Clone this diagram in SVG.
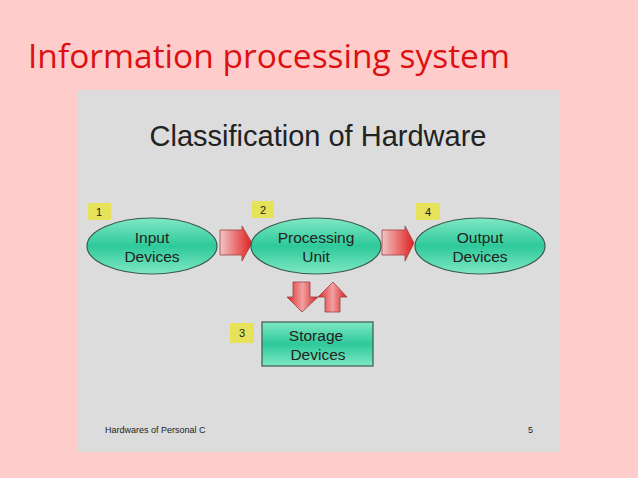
<svg xmlns="http://www.w3.org/2000/svg" width="638" height="478" viewBox="0 0 638 478">
<defs>
<linearGradient id="g" x1="0" y1="0" x2="0" y2="1"><stop offset="0" stop-color="#7fe8c4"/><stop offset="0.5" stop-color="#2ec99a"/><stop offset="1" stop-color="#7fe8c4"/></linearGradient>
<linearGradient id="r" x1="0" y1="0" x2="1" y2="0"><stop offset="0" stop-color="#f2c4c4"/><stop offset="1" stop-color="#e02020"/></linearGradient>
<linearGradient id="rv" x1="0" y1="0" x2="1" y2="0"><stop offset="0" stop-color="#e02a2a"/><stop offset="0.5" stop-color="#f0a0a0"/><stop offset="1" stop-color="#d82020"/></linearGradient>
</defs>
<style>
.n{fill:url(#g);stroke:#3a5a4a;stroke-width:1.2}
.t{font-family:"Liberation Sans",Arial,sans-serif;font-size:15.5px;fill:#222;text-anchor:middle}
.b{fill:#e6e35a}
.bt{font-family:"Liberation Sans",Arial,sans-serif;font-size:11px;fill:#222;text-anchor:middle}
.a{stroke:#a04040;stroke-width:0.8}
</style>
<rect width="638" height="478" fill="#ffcccc"/>
<text x="28" y="68" font-family="Open Sans, sans-serif" font-size="33.5" fill="#dd1111">Information processing system</text>
<rect x="78" y="90" width="482" height="362" fill="#dcdcdc"/>
<text x="318" y="146" font-family="Liberation Sans, Arial, sans-serif" font-size="29" fill="#222" text-anchor="middle">Classification of Hardware</text>
<text x="105" y="433" font-family="Liberation Sans, Arial, sans-serif" font-size="9" fill="#222">Hardwares of Personal C</text>
<text x="528" y="433" font-family="Liberation Sans, Arial, sans-serif" font-size="9" fill="#222">5</text>
<g id="connectors">
<polygon class="a" fill="url(#r)" points="220,230 242,230 242,226 252,243 242,261 242,255 220,255"/>
<polygon class="a" fill="url(#r)" points="382,230 405,230 405,226 414,243 405,261 405,255 382,255"/>
<polygon class="a" fill="url(#rv)" points="293,282 310,282 310,297 318,297 302,312 287,297 293,297"/>
<polygon class="a" fill="url(#rv)" points="325,312 340,312 340,297 347,297 333,282 318,297 325,297"/>
</g>
<g id="input"><ellipse class="n" cx="152" cy="246" rx="65" ry="28"/><text class="t" x="152" y="243">Input</text><text class="t" x="152" y="262">Devices</text></g>
<g id="processing"><ellipse class="n" cx="316" cy="246" rx="65" ry="28"/><text class="t" x="316" y="243">Processing</text><text class="t" x="316" y="262">Unit</text></g>
<g id="output"><ellipse class="n" cx="480" cy="246" rx="65" ry="28"/><text class="t" x="480" y="243">Output</text><text class="t" x="480" y="262">Devices</text></g>
<g id="storage"><rect class="n" x="262" y="322" width="111" height="44"/><text class="t" x="316" y="341">Storage</text><text class="t" x="318" y="360">Devices</text></g>
<g id="badge1"><rect class="b" x="88" y="203" width="23" height="17"/><text class="bt" x="99" y="216">1</text></g>
<g id="badge2"><rect class="b" x="252" y="201" width="22" height="17"/><text class="bt" x="263" y="214">2</text></g>
<g id="badge4"><rect class="b" x="416" y="203" width="24" height="17"/><text class="bt" x="428" y="216">4</text></g>
<g id="badge3"><rect class="b" x="230" y="323" width="24" height="20"/><text class="bt" x="242" y="337">3</text></g>
</svg>
